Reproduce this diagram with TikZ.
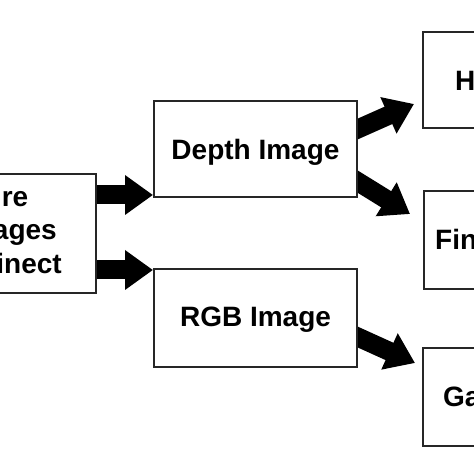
\documentclass[tikz,border=0pt]{standalone}
\usepackage{fontspec}
\setmainfont{Liberation Sans}
\usetikzlibrary{arrows.meta,backgrounds}
\begin{document}
\begin{tikzpicture}[x=1bp,y=1bp,
  box/.style={draw=black!85, line width=2bp, fill=white, inner sep=0pt},
  lbl/.style={font=\bfseries\fontsize{28bp}{34bp}\selectfont, inner sep=0pt, text=black},
  bigarrow/.style={line width=19bp, -{Triangle[length=28bp,width=38bp]}}]
\useasboundingbox (0,0) rectangle (474,474);
\clip (0,0) rectangle (474,474);
% boxes
\node[box, minimum width=220bp, minimum height=119bp, anchor=east] (src) at (97,240.5) {};
\node[box, minimum width=203bp, minimum height=96bp] (depth) at (255.5,325) {};
\node[box, minimum width=203bp, minimum height=98bp] (rgb) at (255.5,156) {};
\node[box, minimum width=150bp, minimum height=96bp, anchor=west] (hand) at (422,394) {};
\node[box, minimum width=150bp, minimum height=98bp, anchor=west] (fin) at (423,234) {};
\node[box, minimum width=150bp, minimum height=98bp, anchor=west] (ga) at (422,77) {};
% texts
\node[lbl, anchor=base east] (t1) at (28.5,267.5) {re};
\node[lbl, anchor=base east] (t2) at (57,234) {ages};
\node[lbl, anchor=base east] (t3) at (62,200) {inect};
\node[lbl, anchor=base] (td) at (255.5,314) {Depth Image};
\node[lbl, anchor=base] (tr) at (255.5,147) {RGB Image};
\node[lbl, anchor=base west] (th) at (455,383) {H};
\node[lbl, anchor=base west] (tf) at (435,224) {Fin};
\node[lbl, anchor=base west] (tg) at (443,67) {Ga};
% arrows
\begin{scope}[on background layer]
\draw[bigarrow] ([yshift=38.5bp]src.east) -- ([yshift=38.5bp]src.east -| depth.west);
\draw[bigarrow] ([yshift=-36.5bp]src.east) -- ([yshift=-36.5bp]src.east -| rgb.west);
\draw[bigarrow] ([shift={(-7,17)}]depth.east) -- ([shift={(-8,-24)}]hand.west);
\draw[bigarrow] ([shift={(-7,-28.5)}]depth.east) -- ([shift={(-13,26)}]fin.west);
\draw[bigarrow] ([shift={(-7,-16)}]rgb.east) -- ([shift={(-7,34)}]ga.west);
\end{scope}
\end{tikzpicture}
\end{document}
